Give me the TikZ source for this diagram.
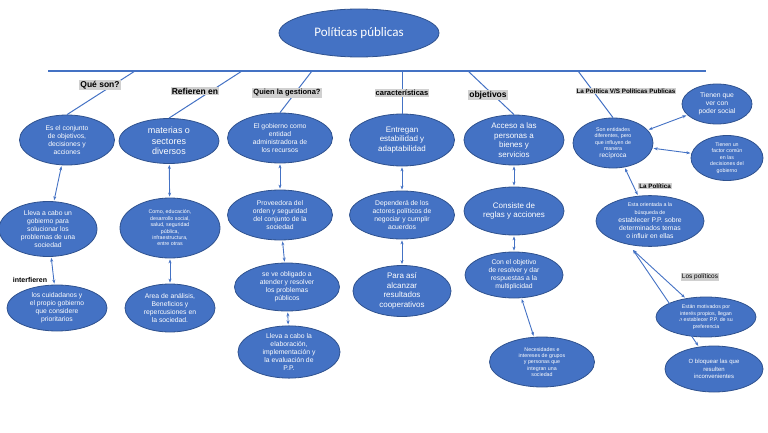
\documentclass[tikz,border=0pt]{standalone}
\usepackage{fontspec}
\setmainfont{Liberation Sans}
\newfontfamily\titlefont{Carlito}
\usetikzlibrary{shapes.geometric,arrows.meta}
\definecolor{ebl}{HTML}{4472C4}
\definecolor{ebd}{HTML}{2F528F}
\definecolor{lblg}{HTML}{D0D0D0}
\tikzset{
 el/.style={ellipse,fill=ebl,draw=ebd,line width=0.8pt,text=white,align=center,inner sep=0pt,font=\fontsize{6.8}{8}\selectfont},
 sm/.style={el,font=\fontsize{5.3}{6.4}\selectfont},
 lbl/.style={fill=lblg,inner sep=1pt,font=\fontsize{8.5}{9}\selectfont\bfseries},
 lbs/.style={fill=lblg,inner sep=1pt,font=\fontsize{6.5}{7}\selectfont},
 ar/.style={{Stealth[length=4pt]}-{Stealth[length=4pt]},ebl,line width=0.9pt,shorten <=1pt,shorten >=1pt},
 ln/.style={ebl,line width=1pt}
}
\begin{document}
\begin{tikzpicture}[x=1pt,y=-1pt]
\useasboundingbox (0,0) rectangle (768,433);
\node[ellipse,fill=ebl,draw=ebd,line width=0.8pt,text=white,minimum width=160pt,minimum height=48pt,font=\titlefont\fontsize{13}{14}\selectfont] (t) at (359,33) {Políticas públicas};
\coordinate (hl) at (48,71); \coordinate (hr) at (706,71);
\draw[ln,line width=1.5pt] (hl) -- (hr);
% column 1
\node[el,minimum width=95pt,minimum height=50pt] (a1) at (67,140) {Es el conjunto\\de objetivos,\\decisiones y\\acciones};
\node[el,minimum width=98pt,minimum height=55pt] (a2) at (48,229) {Lleva a cabo un\\gobierno para\\solucionar los\\problemas de una\\sociedad};
\node[el,minimum width=100pt,minimum height=46pt] (a3) at (57,308) {los cuidadanos y\\el propio gobierno\\que considere\\prioritarios};
% column 2
\node[el,minimum width=100pt,minimum height=45pt,font=\fontsize{9}{10.5}\selectfont] (b1) at (169,141) {materias o\\sectores\\diversos};
\node[sm,minimum width=100pt,minimum height=60pt] (b2) at (170,228) {Como, educación,\\desarrollo social,\\salud, seguridad\\pública,\\infraestructura,\\entre otras};
\node[el,minimum width=90pt,minimum height=48pt] (b3) at (170,308) {Area de análisis,\\Beneficios y\\repercusiones en\\la sociedad.};
% column 3
\node[el,minimum width=105pt,minimum height=50pt] (c1) at (280,138) {El gobierno como\\entidad\\administradora de\\los recursos};
\node[el,minimum width=105pt,minimum height=50pt] (c2) at (280,215) {Proveedora del\\orden y seguridad\\del conjunto de la\\sociedad};
\node[el,minimum width=105pt,minimum height=48pt] (c3) at (287,287) {se ve obligado a\\atender y resolver\\los problemas\\públicos};
\node[el,minimum width=102pt,minimum height=46pt] (c4) at (289,352) {Lleva a cabo la\\elaboración,\\implementación y\\la evaluación de\\P.P.};
% column 4
\node[el,minimum width=105pt,minimum height=52pt,font=\fontsize{8}{9.5}\selectfont] (d1) at (402,140) {Entregan\\estabilidad y\\adaptabilidad};
\node[el,minimum width=105pt,minimum height=48pt] (d2) at (402,215) {Dependerá de los\\actores políticos de\\negociar y cumplir\\acuerdos};
\node[el,minimum width=98pt,minimum height=45pt,font=\fontsize{8}{9.5}\selectfont] (d3) at (402,291) {Para así\\alcanzar\\resultados\\cooperativos};
% column 5
\node[el,minimum width=100pt,minimum height=50pt,font=\fontsize{8}{9.5}\selectfont] (e1) at (514,140) {Acceso a las\\personas a\\bienes y\\servicios};
\node[el,minimum width=100pt,minimum height=48pt,font=\fontsize{8}{9.5}\selectfont] (e2) at (514,211) {Consiste de\\reglas y acciones};
\node[el,minimum width=98pt,minimum height=46pt] (e3) at (514,275) {Con el objetivo\\de resolver y dar\\respuestas a la\\multiplicidad};
\node[sm,minimum width=105pt,minimum height=50pt] (e4) at (542,362) {Necesidades e\\intereses de grupos\\y personas que\\integran una\\sociedad};
% column 6
\node[sm,minimum width=80pt,minimum height=50pt] (f1) at (613,143) {Son entidades\\diferentes, pero\\que influyen de\\manera\\\fontsize{6.5}{7.5}\selectfont recíproca};
\node[el,minimum width=70pt,minimum height=40pt] (f2) at (717,104) {Tienen que\\ver con\\poder social};
\node[sm,minimum width=72pt,minimum height=45pt] (f3) at (727,158) {Tienen un\\factor común\\en las\\decisiones del\\gobierno};
\node[el,minimum width=108pt,minimum height=48pt] (f4) at (650,221) {{\fontsize{5.3}{6.4}\selectfont Esta orientada a la}\\{\fontsize{5.3}{6.4}\selectfont búsqueda de}\\establecer P.P. sobre\\determinados temas\\o influir en ellas};
\node[sm,minimum width=100pt,minimum height=40pt] (f5) at (706,317) {Están motivados por\\interés propios, llegan\\a establecer P.P. de su\\preferencia};
\node[sm,minimum width=98pt,minimum height=46pt,font=\fontsize{6}{7.2}\selectfont] (f6) at (714,369) {O bloquear las que\\resulten\\inconvenientes};
\coordinate (f4b) at (633,250);
% lines from header line
\draw[ln] (135,71) -- (a1.north);
\draw[ln] (242,71) -- (b1.north);
\draw[ln] (312,71) -- (c1.north);
\draw[ln] (402,71) -- (d1.north);
\draw[ln] (468,71) -- (e1.north);
\draw[ln] (578,71) -- (f1.north);
% labels
\node[lbl] (l1) at (100,85) {Qué son?};
\node[lbl] (l2) at (195,91) {Refieren en};
\node[lbl,font=\fontsize{7.5}{8}\selectfont\bfseries] (l3) at (287,93) {Quien la gestiona?};
\node[lbl,font=\fontsize{7.5}{8}\selectfont\bfseries] (l4) at (402,93) {características};
\node[lbl] (l5) at (488,95) {objetivos};
\node[lbs,font=\fontsize{6.3}{7}\selectfont\bfseries] (l6) at (626,91) {La Política V/S Políticas Publicas};
\node[font=\fontsize{7}{8}\selectfont\bfseries] (l7) at (30,280) {interfieren};
\node[lbs,font=\fontsize{6.3}{7}\selectfont\bfseries] (l8) at (655,186) {La Política};
\node[lbs] (l9) at (700,277) {Los políticos};
% arrows
\draw[ar] (a1) -- (a2); \draw[ar] (a2) -- (a3);
\draw[ar] (b1) -- (b2); \draw[ar] (b2) -- (b3);
\draw[ar] (c1) -- (c2); \draw[ar] (c2) -- (c3); \draw[ar] (c3) -- (c4);
\draw[ar] (d1) -- (d2); \draw[ar] (d2) -- (d3);
\draw[ar] (e1) -- (e2); \draw[ar] (e2) -- (e3); \draw[ar] (e3) -- (e4);
\draw[ar] (f1) -- (f2); \draw[ar] (f1) -- (f3); \draw[ar] (f1) -- (f4);
\draw[ar,shorten <=0pt] (f4b) -- (f5); \draw[ar,shorten <=0pt] (f4b) -- (f6);
\end{tikzpicture}
\end{document}
